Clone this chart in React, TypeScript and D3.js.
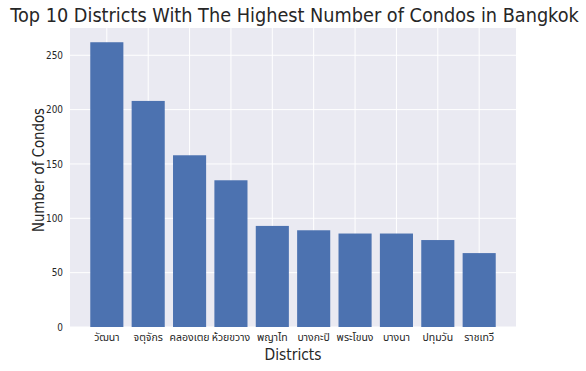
import React, { useLayoutEffect, useRef, useState } from "react";
import * as d3 from "d3";

const districts = ["วัฒนา", "จตุจักร", "คลองเตย", "ห้วยขวาง", "พญาไท", "บางกะปิ", "พระโขนง", "บางนา", "ปทุมวัน", "ราชเทวี"];
const counts = [262, 208, 158, 135, 93, 89, 86, 86, 80, 68];
const yTicks = [0, 50, 100, 150, 200, 250];

const W = 586, H = 371;
const M = { left: 70, right: 516, top: 28, bottom: 327 };
const FONT = "'DejaVu Sans', 'Noto Sans', 'Noto Sans Thai', sans-serif";
const SQ = 0.85;

export default function App() {
  const x = d3.scaleLinear().domain([-0.89, 9.89]).range([M.left, M.right]);
  const y = d3.scaleLinear().domain([0, 262 * 1.05]).range([M.bottom, M.top]);
  const bw = x(0.8) - x(0);
  const titleRef = useRef<SVGTextElement>(null);
  const ylabRef = useRef<SVGTextElement>(null);
  const xlabRef = useRef<SVGTextElement>(null);
  const [ts, setTs] = useState(SQ);
  const [ys, setYs] = useState(SQ);
  const [xs, setXs] = useState(SQ);
  useLayoutEffect(() => {
    const m = (r: React.RefObject<SVGTextElement | null>, target: number, set: (v: number) => void) => {
      if (r.current) {
        const l = r.current.getComputedTextLength();
        if (l > 0) set(target / l);
      }
    };
    m(titleRef, 569, setTs);
    m(ylabRef, 124, setYs);
    m(xlabRef, 57, setXs);
  }, []);
  return (
    <svg width={W} height={H} style={{ position: "absolute", left: 0, top: 0 }} fontFamily={FONT}>
      <rect x={0} y={0} width={W} height={H} fill="#fff" />
      <rect x={M.left} y={M.top} width={M.right - M.left} height={M.bottom - M.top} fill="#EAEAF2" />
      {yTicks.map((t) => (
        <line key={"gy" + t} x1={M.left} x2={M.right} y1={y(t)} y2={y(t)} stroke="#fff" strokeWidth={1} />
      ))}
      {districts.map((d, i) => (
        <line key={"gx" + i} x1={x(i)} x2={x(i)} y1={M.top} y2={M.bottom} stroke="#fff" strokeWidth={1} />
      ))}
      {counts.map((c, i) => (
        <rect key={"b" + i} x={x(i) - bw / 2} y={y(c)} width={bw} height={y(0) - y(c)} fill="#4C72B0" />
      ))}
      {yTicks.map((t) => (
        <g key={"ty" + t} transform={`translate(${M.left - 7},${y(t)}) scale(${SQ},1)`}>
          <text x={0} y={0} dy="0.36em" textAnchor="end" fontSize={10.5} fill="#262626">{t}</text>
        </g>
      ))}
      {districts.map((d, i) => (
        <text key={"tx" + i} x={x(i)} y={M.bottom + 14} textAnchor="middle" fontSize={10.5} fill="#262626">{d}</text>
      ))}
      <g transform={`translate(${(M.left + M.right) / 2},360) scale(${xs},1)`}>
        <text ref={xlabRef} x={0} y={0} textAnchor="middle" fontSize={16} fill="#262626">Districts</text>
      </g>
      <g transform={`translate(44,170) rotate(-90) scale(${ys},1)`}>
        <text ref={ylabRef} x={0} y={0} textAnchor="middle" fontSize={16} fill="#262626">Number of Condos</text>
      </g>
      <g transform={`translate(294.5,22) scale(${ts},1)`}>
        <text ref={titleRef} x={0} y={0} textAnchor="middle" fontSize={20} fill="#262626">Top 10 Districts With The Highest Number of Condos in Bangkok</text>
      </g>
    </svg>
  );
}
